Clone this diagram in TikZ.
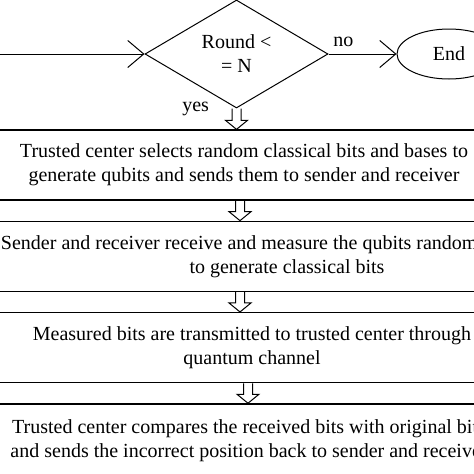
\documentclass[tikz,border=0pt]{standalone}
\usepackage{fontspec}
\setmainfont{Liberation Serif}
\usetikzlibrary{positioning,shapes.geometric,arrows.meta,calc}

\tikzset{
  stepbox/.style={draw, line width=1.3pt, minimum width=640pt, minimum height=70pt,
    align=center, inner sep=0pt},
  flow/.style={line width=1pt, -{Straight Barb[length=16pt,width=27pt,line width=1pt]}},
  hollow/.style={line width=1pt, to path={
    let \p1=(\tikztostart), \p2=(\tikztotarget) in
    (\x1-4.5pt,\y1) -- (\x1-4.5pt,\y2+9pt) -- (\x1-11pt,\y2+9pt) -- (\x1,\y2)
    -- (\x1+11pt,\y2+9pt) -- (\x1+4.5pt,\y2+9pt) -- (\x1+4.5pt,\y1)}}
}

\begin{document}
\begin{tikzpicture}[x=1pt,y=-1pt,font=\fontsize{20}{24}\selectfont]
	\useasboundingbox (0,0) rectangle (474,474);
	\clip (0,0) rectangle (474,474);

	\coordinate (in) at (-5,54);
	\node (dec) [draw, diamond, line width=1pt, minimum width=183pt, minimum height=108pt,
		inner sep=0pt, align=center] at (236.5,54) {Round <\\= N};
	\node (end) [draw, ellipse, line width=1pt, minimum width=104pt, minimum height=50pt,
		inner sep=0pt] at (449,54) {End};

	\node (b1) [stepbox] at (244,165) {Trusted center selects random classical bits and bases to\\generate qubits and sends them to sender and receiver};
	\node (b2) [stepbox, below=20pt of b1, xshift=43pt] {Sender and receiver receive and measure the qubits randomly\hspace*{80pt}\\to generate classical bits};
	\node (b3) [stepbox, below=20pt of b2, xshift=-35pt] {Measured bits are transmitted to trusted center through\\quantum channel};
	\node (b4) [stepbox, below=20pt of b3, xshift=-3pt, minimum height=74pt] {Trusted center compares the received bits with original bits\\and sends the incorrect position back to sender and receiver};

	\draw[flow] (in) -- (dec.west);
	\draw[flow] (dec.east) -- node[above, pos=0.22, yshift=3pt] {no} (end.west);
	\node [left=24pt of dec.south] {yes};

	\draw[hollow] (dec.south) to (b1.north);
	\draw[hollow] ([xshift=-4pt]b1.south) to ([xshift=-4pt]b2.north);
	\draw[hollow] ([xshift=-47pt]b2.south) to ([xshift=-47pt]b3.north);
	\draw[hollow] ([xshift=-4pt]b3.south) to ([xshift=-4pt]b4.north);
\end{tikzpicture}
\end{document}
